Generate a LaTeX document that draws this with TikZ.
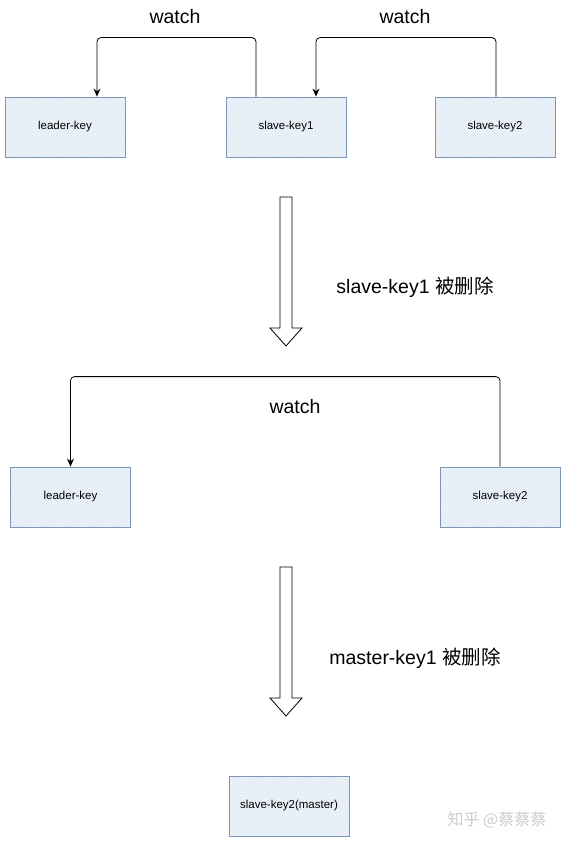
\documentclass[tikz,border=0pt]{standalone}
\usepackage{fontspec}
\setmainfont{Liberation Sans}
\newfontfamily\cjk{Noto Sans CJK SC}
\usetikzlibrary{arrows.meta,patterns}

\definecolor{keyline}{HTML}{7D96B8}
\definecolor{keyfill}{HTML}{F3F7FC}
\definecolor{keyhatch}{HTML}{D2E0EF}

\begin{document}
\begin{tikzpicture}[
  x=1pt, y=-1pt,
  keybox/.style={
    draw=keyline, line width=0.8pt,
    preaction={fill=keyfill},
    pattern=north east lines, pattern color=keyhatch,
    minimum width=120pt, minimum height=60pt, inner sep=0pt,
    font=\fontsize{11.5}{13}\selectfont
  },
  watchline/.style={draw, line width=0.8pt, rounded corners=4pt,
    -{Stealth[length=8pt,width=7pt]}},
  biglabel/.style={font=\fontsize{19.5}{22}\selectfont},
  hollow/.style={draw, line width=0.8pt, fill=white}
]
\useasboundingbox (0,0) rectangle (566,843);

% first state
\node[keybox] (leaderkey) at (65,127) {leader-key};
\node[keybox] (slavekeyone) at (286,127) {slave-key1};
\node[keybox] (slavekeytwo) at (495,127) {slave-key2};
\draw[watchline] ([xshift=-30pt]slavekeyone.north) -- ++(0,-59)
  -| ([xshift=32pt]leaderkey.north);
\draw[watchline] ([xshift=1pt]slavekeytwo.north) -- ++(0,-59)
  -| ([xshift=30pt]slavekeyone.north);
\node[biglabel] (watchone) at (175,17) {watch};
\node[biglabel] (watchtwo) at (405,17) {watch};

% hollow arrows between states
\foreach \ytop in {197,567}
  \draw[hollow] (280,\ytop) -- (292,\ytop) -- (292,\ytop+131) -- (302,\ytop+131)
    -- (286,\ytop+149) -- (270,\ytop+131) -- (280,\ytop+131) -- cycle;
\node[biglabel] (dropone) at (415,287) {slave-key1 {\cjk 被删除}};
\node[biglabel] (droptwo) at (415,658) {master-key1 {\cjk 被删除}};

% second state
\node[keybox] (leaderkeyb) at (70.5,497) {leader-key};
\node[keybox] (slavekeytwob) at (500,497) {slave-key2};
\draw[watchline] (slavekeytwob.north) -- ++(0,-90) -| (leaderkeyb.north);
\node[biglabel] (watchthree) at (295,407) {watch};

% third state
\node[keybox] (masterkey) at (289,806) {slave-key2(master)};
\node[text=gray!40, font=\cjk\fontsize{16}{18}\selectfont] (mark) at (497,820) {知乎 @蔡蔡蔡};
\end{tikzpicture}
\end{document}
